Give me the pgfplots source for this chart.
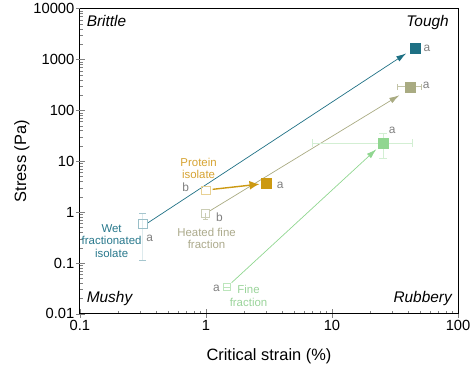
\documentclass[border=0pt]{standalone}
\usepackage{pgfplots}
\pgfplotsset{compat=1.18}
\usetikzlibrary{arrows.meta}
\usepackage{fontspec}
\setmainfont{Liberation Sans}
\definecolor{teal1}{RGB}{30,112,132}
\definecolor{tan1}{RGB}{169,171,130}
\definecolor{green1}{RGB}{144,214,144}
\definecolor{orange1}{RGB}{204,153,17}
\definecolor{tealtxt}{RGB}{40,120,140}
\definecolor{tantxt}{RGB}{172,170,140}
\definecolor{greentxt}{RGB}{155,212,155}
\definecolor{orangetxt}{RGB}{214,163,50}
\definecolor{graytxt}{RGB}{128,128,128}
\begin{document}
\begin{tikzpicture}
\begin{axis}[
  scale only axis, width=379bp, height=306bp,
  xmode=log, ymode=log,
  xmin=0.1, xmax=100, ymin=0.01, ymax=10000,
  xtick={0.1,1,10,100}, xticklabels={0.1,1,10,100},
  ytick={0.01,0.1,1,10,100,1000,10000},
  yticklabels={0.01,0.1,1,10,100,1000,10000},
  extra x ticks={0.1,1,10,100}, extra x tick labels={},
  extra y ticks={0.01,0.1,1,10,100,1000,10000}, extra y tick labels={},
  extra tick style={tick align=outside, major tick length=4bp},
  /pgf/number format/assume math mode=true,
  tick label style={font=\fontsize{14.8}{18}\selectfont},
  xticklabel style={yshift=-2.5bp},
  yticklabel style={xshift=-2bp},
  xtick pos=bottom, ytick pos=left,
  tick align=inside, major tick length=5bp, minor tick length=3bp,
  axis line style={line width=0.9pt},
  xlabel={Critical strain (\%)}, ylabel={Stress (Pa)},
  label style={font=\fontsize{16.5}{19}\selectfont},
  xlabel style={at={(axis description cs:0.5,-0.14)},anchor=center},
  ylabel style={at={(axis description cs:-0.153,0.5)},anchor=center},
  clip=false,
]
% arrows
\addplot[teal1, line width=0.7pt, -{Latex[length=10bp,width=6bp]}] coordinates {(0.345,0.61) (38.8,1312)};
\addplot[tan1, line width=0.7pt, -{Latex[length=10bp,width=6bp]}] coordinates {(1.07,1.05) (34.2,197)};
\addplot[green1, line width=0.7pt, -{Latex[length=10bp,width=6bp]}] coordinates {(1.6,0.041) (22.5,17.2)};
\addplot[orange1, line width=1.4pt, -{Latex[length=10bp,width=9bp]}] coordinates {(1.13,2.8) (2.66,3.54)};
% error bars + markers
\addplot[only marks, mark=square*, mark size=5bp, color=green1,
  error bars/.cd, x dir=both, x explicit, y dir=both, y explicit,
  error bar style={color=green1!40!white, line width=0.5pt}, error mark options={rotate=90, mark size=4bp, color=green1!40!white}]
  coordinates {(25.5,22.5) += (17.5,12.5) -= (18.5,11)};
\addplot[only marks, mark=square*, mark size=5bp, color=tan1,
  error bars/.cd, x dir=both, x explicit,
  error bar style={color=tan1!70!white, line width=0.6pt}, error mark options={rotate=90, mark size=3bp, color=tan1!70!white}]
  coordinates {(42,290) += (9,0) -= (9,0)};
\addplot[only marks, mark=square*, mark size=5bp, color=teal1] coordinates {(46,1650)};
\addplot[only marks, mark=square*, mark size=5bp, color=orange1] coordinates {(3.0,3.7)};
% open squares
\addplot[only marks, mark=square, mark size=4.3bp, color=teal1!45!white, mark options={fill=white,line width=0.7pt},
  error bars/.cd, y dir=both, y explicit,
  error bar style={color=teal1!15!white, line width=0.5pt}, error mark options={rotate=90, mark size=3.5bp, color=teal1!40!white}]
  coordinates {(0.315,0.58) += (0,0.37) -= (0,0.465)};
\addplot[only marks, mark=square, mark size=4.3bp, color=orange1!45!white, mark options={fill=white,line width=0.7pt}]
  coordinates {(1.0,2.7)};
\addplot[only marks, mark=square, mark size=4.3bp, color=tan1!60!white, mark options={fill=white,line width=0.7pt},
  error bars/.cd, y dir=minus, y explicit,
  error bar style={color=tan1!60!white, line width=0.5pt}, error mark options={rotate=90, mark size=2.5bp, color=tan1!60!white}]
  coordinates {(0.99,0.95) -= (0,0.22)};
\addplot[only marks, mark=square, mark size=3.5bp, color=green1!60!white, mark options={fill=white,line width=0.7pt},
  error bars/.cd, x dir=both, x explicit,
  error bar style={color=green1!60!white, line width=0.5pt}, error mark options={rotate=90, mark size=3bp, color=green1!60!white}]
  coordinates {(1.46,0.034) += (0.1,0) -= (0.1,0)};
% corner labels
\tikzset{cl/.style={font=\fontsize{15.5}{18}\selectfont\itshape, inner sep=0pt}}
\node[cl, anchor=west] at (rel axis cs:0.018,0.958) {Brittle};
\node[cl, anchor=east] at (rel axis cs:0.976,0.955) {Tough};
\node[cl, anchor=west] at (rel axis cs:0.018,0.049) {Mushy};
\node[cl, anchor=east] at (rel axis cs:0.984,0.049) {Rubbery};
% sample labels
\node[align=center, text=orangetxt, font=\fontsize{11.5}{12.5}\selectfont] at (rel axis cs:0.314,0.477) {Protein\\isolate};
\node[align=center, text=tealtxt, font=\fontsize{11.5}{12.5}\selectfont] at (rel axis cs:0.084,0.239) {Wet\\fractionated\\isolate};
\node[align=center, text=tantxt, font=\fontsize{11.5}{12.5}\selectfont] at (rel axis cs:0.335,0.248) {Heated fine\\fraction};
\node[align=center, text=greentxt, font=\fontsize{11.5}{12.5}\selectfont] at (rel axis cs:0.446,0.059) {Fine\\fraction};
% letters
\tikzset{lt/.style={text=graytxt, font=\fontsize{12}{14}\selectfont, inner sep=0pt}}
\node[lt] at (rel axis cs:0.28,0.415) {b};
\node[lt] at (rel axis cs:0.53,0.422) {a};
\node[lt] at (rel axis cs:0.185,0.248) {a};
\node[lt] at (rel axis cs:0.369,0.317) {b};
\node[lt] at (rel axis cs:0.361,0.085) {a};
\node[lt] at (rel axis cs:0.826,0.601) {a};
\node[lt] at (rel axis cs:0.916,0.748) {a};
\node[lt] at (rel axis cs:0.918,0.869) {a};
\end{axis}
\path (current axis.south west) ++(-80bp,-58bp) rectangle ([shift={(16bp,7bp)}]current axis.north east);
\end{tikzpicture}
\end{document}
